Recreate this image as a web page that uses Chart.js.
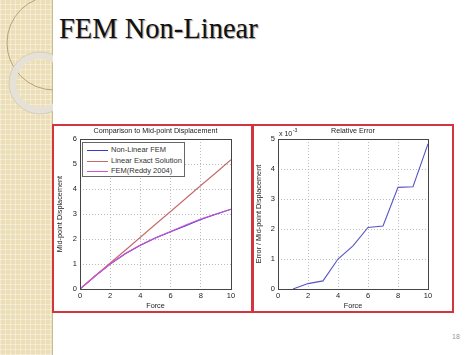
<!DOCTYPE html>
<html><head><meta charset="utf-8">
<script src="https://cdn.jsdelivr.net/npm/chart.js@4/dist/chart.umd.min.js"></script>
<style>
body{margin:0;width:474px;height:355px;background:#fff;position:relative;overflow:hidden;font-family:"Liberation Sans",Arial,sans-serif}
#panel{position:absolute;left:0;top:0;width:52px;height:355px;background-color:#ecdfb8;
background-image:repeating-linear-gradient(90deg,rgba(255,255,255,.35) 0 1px,transparent 1px 5px),repeating-linear-gradient(0deg,rgba(255,255,255,.35) 0 1px,transparent 1px 5px);
border-right:1px solid #c9bb8e}
#deco{position:absolute;left:0;top:0}
#title{position:absolute;left:59px;top:13px;font-family:"Liberation Serif","Times New Roman",serif;font-size:28.5px;color:#111;text-shadow:1px 1px 1px #999;white-space:nowrap}
.frame{position:absolute;border:2px solid #d3353f;box-sizing:border-box}
canvas{position:absolute}
#legend{position:absolute;left:82px;top:142px;width:103px;height:35px;box-sizing:border-box;border:1px solid #666;background:#fff;font-size:7.5px;color:#333}
#legend .row{position:absolute;left:0;height:10px;line-height:10px;white-space:nowrap}
#legend .ln{position:absolute;left:4px;top:5px;width:21px;height:0;border-top:1px solid}
#legend .tx{position:absolute;left:28px;top:0}
#pg{position:absolute;left:452px;top:333px;font-size:7px;color:#999}
</style></head><body>
<div id="panel"></div>
<svg id="deco" width="53" height="355">
<circle cx="54" cy="43" r="47" fill="none" stroke="#b5a47a" stroke-width="1"/>
<circle cx="40" cy="83" r="27.5" fill="none" stroke="#e6e1d6" stroke-width="7"/>
<circle cx="40" cy="83" r="31" fill="none" stroke="#c8bfa8" stroke-width="0.6"/>
</svg>
<div id="title">FEM Non-Linear</div>
<div class="frame" style="left:52px;top:124px;width:202px;height:189px"></div>
<div class="frame" style="left:251px;top:124px;width:203px;height:189px"></div>
<canvas id="c1" width="197" height="185" style="left:54px;top:126px"></canvas>
<canvas id="c2" width="199" height="185" style="left:253px;top:126px"></canvas>
<div id="legend"></div>
<div id="pg">18</div>
<script>
// ---- data ----
const force = [0,1,2,3,4,5,6,7,8,9,10];
const nonLinearFEM = [0,0.52,1.0,1.41,1.75,2.04,2.29,2.53,2.78,2.99,3.19];
const linearExact = [0,0.52,1.04,1.55,2.07,2.59,3.10,3.62,4.14,4.65,5.17];
const reddyFEM = [0,0.52,1.0,1.42,1.76,2.05,2.30,2.56,2.80,3.00,3.19];
const errForce = [1,2,3,4,5,6,7,8,9,10];
const relError = [0,0.18,0.27,1.0,1.44,2.05,2.10,3.39,3.41,4.84]; // x 10^-3
const seriesLabels = ['Non-Linear FEM','Linear Exact Solution','FEM(Reddy 2004)'];
const seriesColors = ['#3a3ac8','#c46a6a','#d253d2'];
const xTicks = [0,2,4,6,8,10];

const pts = (xs, ys) => xs.map((x,i)=>({x, y: ys[i]}));
const FONT = "'Liberation Sans', Arial, sans-serif";

const boxPlugin = {
  id:'box',
  afterDraw(chart){
    const {ctx, chartArea:a} = chart;
    ctx.save();
    ctx.strokeStyle='#444'; ctx.lineWidth=1;
    ctx.strokeRect(Math.round(a.left)+0.5, Math.round(a.top)+0.5, Math.round(a.right-a.left), Math.round(a.bottom-a.top));
    ctx.restore();
  }
};

function makeChart(id, datasets, yMax, title, yTitle, yWidth, padRight, extra){
  return new Chart(document.getElementById(id), {
    type:'line',
    data:{datasets},
    options:{
      responsive:false, animation:false, devicePixelRatio:1,
      layout:{padding:{left:0,right:padRight,top:0,bottom:0}},
      plugins:{
        legend:{display:false}, tooltip:{enabled:false},
        title:{display:true, fullSize:false, text:title, color:'#222', font:{family:FONT,size:7.2,weight:'normal'}, padding:{top:1,bottom:3.4}}
      },
      elements:{point:{radius:0}, line:{tension:0, borderWidth:1.1}},
      scales:{
        x:{type:'linear', min:0, max:10,
          afterBuildTicks(s){ s.ticks = xTicks.map(v=>({value:v})); },
          afterFit(s){ s.height = 22; },
          grid:{color:'#aaa', drawTicks:false, lineWidth:0.8},
          border:{display:false, dash:[1,2]},
          ticks:{color:'#222', padding:2, font:{family:FONT,size:7.5}},
          title:{display:true, text:'Force', color:'#222', font:{family:FONT,size:7.3}, padding:{top:0,bottom:1}}
        },
        y:{type:'linear', min:0, max:yMax,
          afterFit(s){ s.width = yWidth; },
          grid:{color:'#aaa', drawTicks:false, lineWidth:0.8},
          border:{display:false, dash:[1,2]},
          ticks:{color:'#222', padding:3, stepSize:1, font:{family:FONT,size:7.5}},
          title:{display:true, text:yTitle, color:'#222', font:{family:FONT,size:7.3}, padding:{top:2,bottom:0}}
        }
      }
    },
    plugins:[boxPlugin].concat(extra||[])
  });
}

makeChart('c1', [
  {label:seriesLabels[0], data:pts(force,nonLinearFEM), borderColor:seriesColors[0], order:2},
  {label:seriesLabels[1], data:pts(force,linearExact), borderColor:seriesColors[1], order:1},
  {label:seriesLabels[2], data:pts(force,reddyFEM), borderColor:seriesColors[2], order:0}
], 6, 'Comparison to Mid-point Displacement', 'Mid-point Displacement', 26, 20);

const expPlugin = {
  id:'exp',
  afterDraw(chart){
    const {ctx, chartArea:a} = chart;
    ctx.save();
    ctx.fillStyle='#222';
    ctx.font = "7px " + FONT;
    ctx.textBaseline='alphabetic';
    ctx.fillText('x 10', a.left+1, a.top-3);
    const w = ctx.measureText('x 10').width;
    ctx.font = "5px " + FONT;
    ctx.fillText('-3', a.left+1+w+0.5, a.top-7);
    ctx.restore();
  }
};

makeChart('c2', [
  {label:'Relative Error', data:pts(errForce,relError), borderColor:'#5555c8'}
], 5, 'Relative Error', 'Error / Mid-point Displacement', 25, 24, [expPlugin]);

// HTML legend from series arrays
const lg = document.getElementById('legend');
seriesLabels.forEach((lab,i)=>{
  const r = document.createElement('div');
  r.className='row'; r.style.top = (2 + i*10.5) + 'px'; r.style.width='100%';
  const l = document.createElement('span'); l.className='ln'; l.style.borderTopColor = seriesColors[i];
  const t = document.createElement('span'); t.className='tx'; t.textContent = lab;
  r.appendChild(l); r.appendChild(t); lg.appendChild(r);
});
</script>
</body></html>
